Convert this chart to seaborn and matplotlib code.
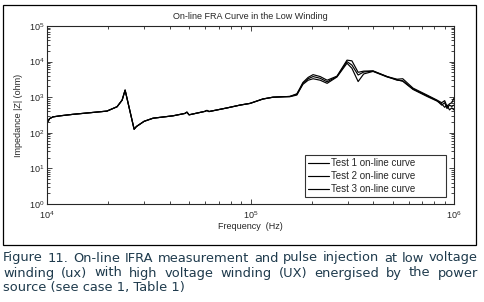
import numpy as np
import pandas as pd
import matplotlib
matplotlib.use("Agg")
import matplotlib.pyplot as plt
from matplotlib.patches import Rectangle
from matplotlib.ticker import LogLocator
import seaborn as sns

# frequency points (Hz)
freq = [1.0e4, 1.03e4, 1.07e4, 1.16e4, 1.34e4, 1.63e4, 1.97e4, 2.21e4, 2.34e4, 2.42e4,
        2.68e4, 2.75e4, 3.0e4, 3.32e4, 4.16e4, 4.76e4, 4.87e4, 4.99e4, 5.97e4, 6.11e4,
        6.25e4, 7.67e4, 8.88e4, 9.95e4, 1.15e5, 1.29e5, 1.45e5,
        1.56e5, 1.69e5, 1.75e5, 1.81e5, 1.92e5, 2.03e5, 2.2e5, 2.38e5, 2.66e5, 2.98e5,
        3.15e5, 3.38e5, 3.6e5, 4.0e5, 4.69e5, 5.25e5, 5.6e5, 6.29e5, 7.37e5, 8.25e5,
        8.7e5, 9.0e5, 9.24e5, 9.5e5, 9.75e5, 1.0e6]

# impedance |Z| (ohm), common part below ~150 kHz
z_low = [190, 250, 280, 300, 330, 367, 407, 540, 830, 1580,
         126, 150, 210, 257, 300, 350, 380, 320, 400, 425,
         395, 500, 600, 670, 890, 1000, 1030]

# per-test part above ~150 kHz
z_test1 = [1050, 1250, 1800, 2600, 3600, 4300, 3800, 3000, 3900, 11000,
           10500, 5000, 5400, 5500, 3800, 3200, 3300, 1800, 1150, 830,
           700, 800, 550, 650, 700, 940]
z_test2 = [1050, 1200, 1700, 2450, 3300, 3800, 3400, 2700, 3800, 10000,
           8000, 4200, 5100, 5400, 3800, 3000, 2900, 1700, 1100, 800,
           600, 700, 480, 600, 550, 600]
z_test3 = [1030, 1150, 1650, 2300, 3000, 3300, 3000, 2450, 3700, 9000,
           6500, 2750, 4500, 5300, 3700, 3100, 2800, 1650, 1050, 780,
           650, 520, 600, 440, 500, 440]

labels = ["Test 1 on-line curve", "Test 2 on-line curve", "Test 3 on-line curve"]

caption_lines = [
    "Figure 11. On-line IFRA measurement and pulse injection at low voltage",
    "winding (ux) with high voltage winding (UX) energised by the power",
    "source (see case 1, Table 1)",
]

frames = []
for lab, tail in zip(labels, [z_test1, z_test2, z_test3]):
    frames.append(pd.DataFrame({"Frequency": freq, "Z": z_low + tail, "Test": lab}))
df = pd.concat(frames, ignore_index=True)

sns.set_style("ticks")
plt.rcParams["font.family"] = ["Liberation Sans", "DejaVu Sans"]
plt.rcParams["mathtext.fontset"] = "custom"
plt.rcParams["mathtext.rm"] = "Liberation Sans"

W, H = 484, 302
fig = plt.figure(figsize=(W / 100, H / 100), dpi=100)
ax = fig.add_axes([47 / W, 1 - 204 / H, (454 - 47) / W, (204 - 26) / H])

sns.lineplot(data=df, x="Frequency", y="Z", hue="Test", palette=["black"] * 3,
             linewidth=0.85, ax=ax, estimator=None, sort=False)

ax.set_xscale("log")
ax.set_yscale("log")
ax.set_xlim(1e4, 1e6)
ax.set_ylim(1, 1e5)
ax.set_xticks([1e4, 1e5, 1e6])
ax.set_yticks([1, 10, 100, 1e3, 1e4, 1e5])
ax.set_xticklabels([r"$10^4$", r"$10^5$", r"$10^6$"])
ax.set_yticklabels([r"$10^0$", r"$10^1$", r"$10^2$", r"$10^3$", r"$10^4$", r"$10^5$"])
ax.xaxis.set_minor_locator(LogLocator(base=10, subs=np.arange(2, 10), numticks=20))
ax.yaxis.set_minor_locator(LogLocator(base=10, subs=np.arange(2, 10), numticks=20))
ax.tick_params(which="both", direction="in", top=True, right=True, labelsize=6.5, width=0.6)
ax.tick_params(which="major", length=3.5, pad=2)
ax.tick_params(axis="x", which="major", pad=3.5)
ax.tick_params(which="minor", length=2)
for s in ax.spines.values():
    s.set_linewidth(0.8)
    s.set_visible(True)

ax.set_title("On-line FRA Curve in the Low Winding", fontsize=6.5, pad=5)
ax.set_xlabel("Frequency  (Hz)", fontsize=6.5, labelpad=1)
ax.set_ylabel("Impedance |Z| (ohm)", fontsize=6.5, labelpad=4)

leg = ax.legend(loc="lower left", bbox_to_anchor=(0.634, 0.039, 0.346, 0.231),
                mode="expand", borderaxespad=0,
                fontsize=7, frameon=True, fancybox=False, edgecolor="black",
                handlelength=2.2, handletextpad=0.2, labelspacing=0.3,
                borderpad=0.3)
leg.get_frame().set_linewidth(0.8)

# outer frame around the plot area
fig.patches.append(Rectangle((2.5 / W, 1 - 245 / H), (476 - 2.5) / W, (245 - 5) / H,
                             transform=fig.transFigure, fill=False,
                             edgecolor="black", linewidth=0.9))

# justified caption below the frame
cap_color = "#1f3b4d"
cap_font = "DejaVu Sans"
cap_size = 9.4
left_px, right_px = 3, 478
line_y = [258, 273, 288]
fig.canvas.draw()
renderer = fig.canvas.get_renderer()
for i, line in enumerate(caption_lines):
    y = 1 - line_y[i] / H
    if i == len(caption_lines) - 1:
        fig.text(left_px / W, y, line, fontsize=cap_size, color=cap_color,
                 family=cap_font, va="center", ha="left")
        continue
    words = line.split(" ")
    texts = [fig.text(0, y, w, fontsize=cap_size, color=cap_color, family=cap_font,
                      va="center", ha="left") for w in words]
    widths = [t.get_window_extent(renderer).width for t in texts]
    gap = (right_px - left_px - sum(widths)) / (len(words) - 1)
    x = left_px
    for t, w in zip(texts, widths):
        t.set_x(x / W)
        x += w + gap

fig.savefig("out.png", dpi=100)
plt.close(fig)
